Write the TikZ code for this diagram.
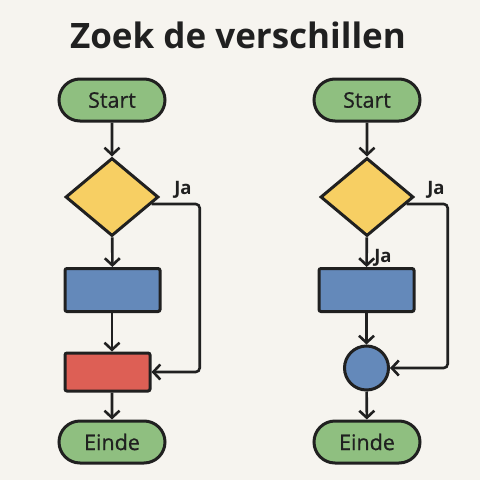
\documentclass[tikz,border=0pt]{standalone}
\usepackage{fontspec}
\setmainfont{Open Sans}
\newfontfamily\medfont[FakeBold=0.7]{Open Sans}
\usetikzlibrary{arrows.meta,shapes.geometric,shapes.misc}
\definecolor{paper}{HTML}{F6F4EF}
\definecolor{ink}{HTML}{202020}
\definecolor{termgreen}{HTML}{8FBF80}
\definecolor{decyellow}{HTML}{F7CF63}
\definecolor{procblue}{HTML}{6489BA}
\definecolor{procred}{HTML}{DD5F55}
\tikzset{
  terminal/.style={rounded rectangle, draw=ink, fill=termgreen, line width=3pt, minimum width=106pt, minimum height=42pt, inner sep=0pt, text=ink, font=\fontsize{21.5}{24}\medfont},
  decision/.style={diamond, draw=ink, fill=decyellow, line width=3pt, minimum width=93pt, minimum height=78pt, inner sep=0pt},
  bluebox/.style={rectangle, rounded corners=2pt, draw=ink, fill=procblue, line width=3pt, minimum width=95pt, minimum height=43pt, inner sep=0pt},
  redbox/.style={rectangle, rounded corners=2pt, draw=ink, fill=procred, line width=3pt, minimum width=85pt, minimum height=38pt, inner sep=0pt},
  joint/.style={circle, draw=ink, fill=procblue, line width=3pt, minimum size=44pt, inner sep=0pt},
  arrow/.style={-{Straight Barb[length=7pt,width=15pt]}, line width=2.6pt, draw=ink},
  jalabel/.style={font=\fontsize{18.5}{20}\selectfont\bfseries, text=ink, inner sep=0pt}
}
\begin{document}
\begin{tikzpicture}[x=1pt,y=-1pt]
  \fill[paper] (0,0) rectangle (480,480);
  \useasboundingbox (0,0) rectangle (480,480);
  \node[font=\fontsize{35}{40}\selectfont\bfseries, text=ink] (title) at (238,35) {Zoek de verschillen};

  \node[terminal] (start1) at (112,100) {Start};
  \node[decision] (dec1) at (112,197) {};
  \node[bluebox] (blue1) at (112.5,290) {};
  \node[redbox] (red1) at (107.5,372) {};
  \node[terminal] (end1) at (112,442) {Einde};
  \node[jalabel] (ja1) at (183,190) {Ja};
  \draw[arrow] (start1) -- (dec1);
  \draw[arrow] (dec1) -- (blue1);
  \draw[arrow] (blue1.south -| start1) -- (red1.north -| start1);
  \draw[arrow] (red1.south -| start1) -- (end1);
  \draw[arrow, rounded corners=4pt] (dec1.-10) -- ++(48,0) |- (red1.east);

  \node[terminal] (start2) at (367,100) {Start};
  \node[decision] (dec2) at (367,197) {};
  \node[bluebox] (blue2) at (366.5,290) {};
  \node[joint] (join2) at (366.5,368) {};
  \node[terminal] (end2) at (367,442) {Einde};
  \node[jalabel] (ja2) at (436,190) {Ja};
  \node[jalabel] (ja3) at (383,258) {Ja};
  \draw[arrow] (start2) -- (dec2);
  \draw[arrow] (dec2) -- (blue2);
  \draw[arrow] (blue2) -- (join2);
  \draw[arrow] (join2) -- (end2);
  \draw[arrow, rounded corners=4pt] (dec2.-10) -- ++(41,0) |- (join2.east);
\end{tikzpicture}
\end{document}
